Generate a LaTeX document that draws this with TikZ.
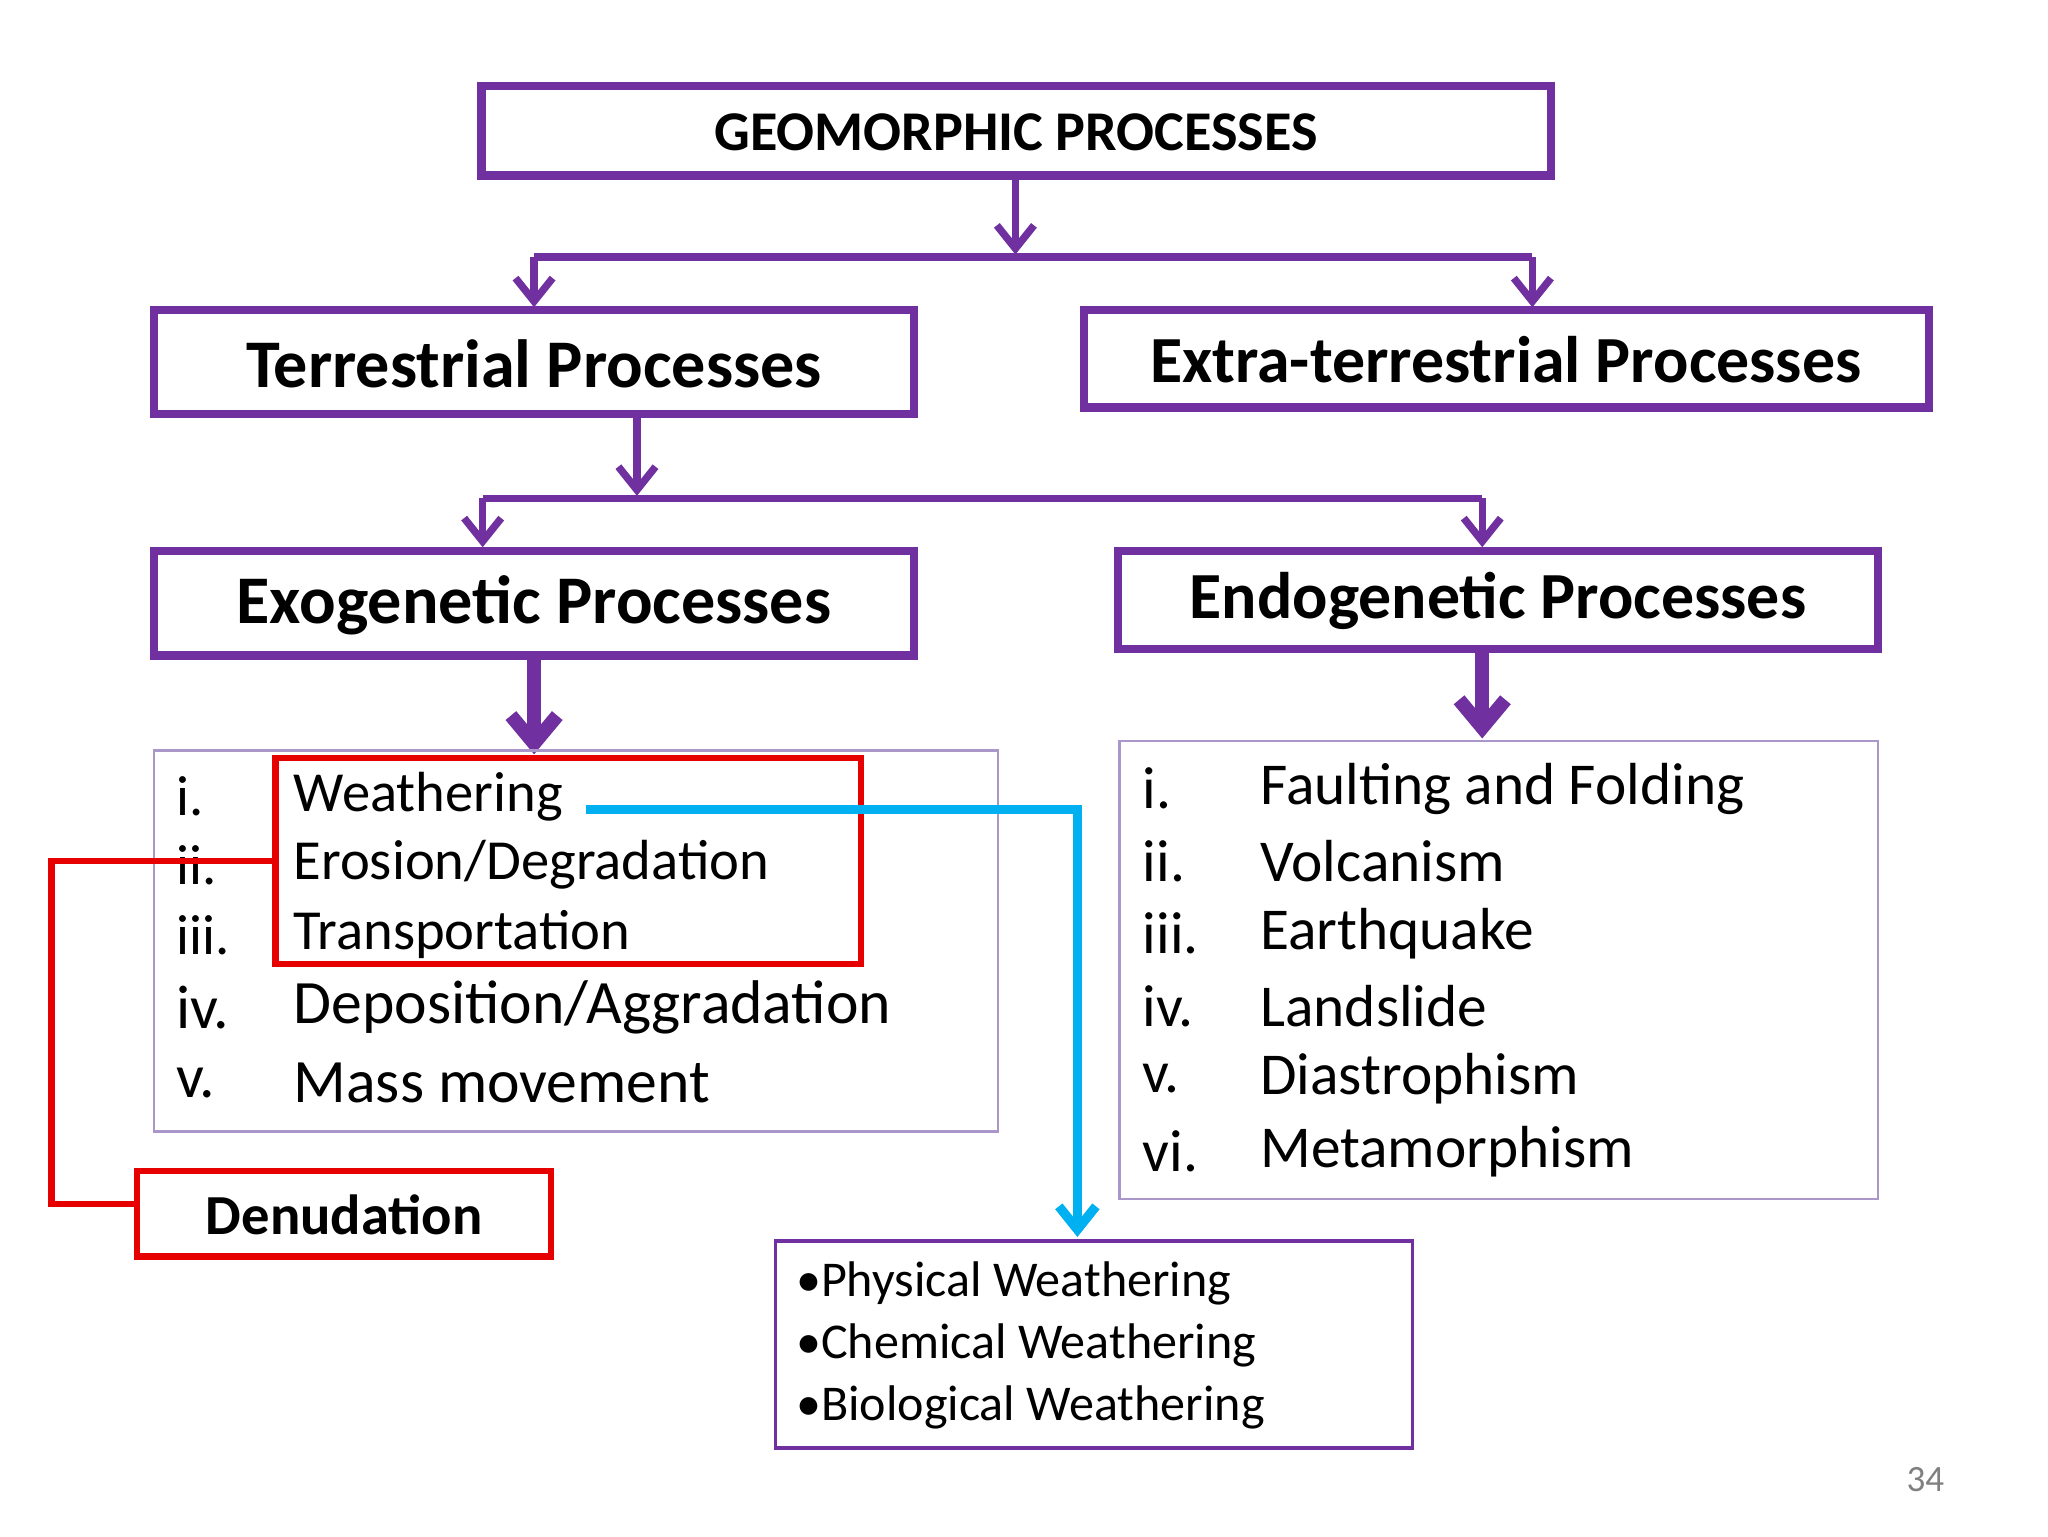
\documentclass[tikz,border=0pt]{standalone}
\usepackage{fontspec}
\setmainfont{Carlito}
\usetikzlibrary{arrows.meta}
\definecolor{pur}{RGB}{112,48,160}
\definecolor{rd}{RGB}{230,0,0}
\definecolor{bl}{RGB}{0,176,240}
\definecolor{lb}{RGB}{170,150,200}
\begin{document}
\begin{tikzpicture}[x=0.01cm,y=-0.01cm,
  pbox/.style={draw=pur,line width=1.8pt},
  thinbox/.style={draw=lb,line width=0.5pt},
  parr/.style={draw=pur,line width=1.6pt,-{Straight Barb[length=5pt,width=8pt]}},
  thk/.style={draw=pur,line width=3pt,-{Straight Barb[length=6pt,width=10pt]}},
  lbl/.style={anchor=west,inner sep=0pt}]
\useasboundingbox (0,0) rectangle (1553,1165);
% top
\draw[pbox] (365,65) rectangle (1176,133);
\node[font=\bfseries\fontsize{12.1}{14}\selectfont] (top) at (770.5,100) {GEOMORPHIC PROCESSES};
\draw[pbox] (117,235) rectangle (693,314);
\node[font=\bfseries\fontsize{14.7}{17}\selectfont] (ter) at (405,276) {Terrestrial Processes};
\draw[pbox] (822,235) rectangle (1463,309);
\node[font=\bfseries\fontsize{14.2}{17}\selectfont] (ext) at (1142,273) {Extra-terrestrial Processes};
\coordinate (a1) at (770,133); \coordinate (a2) at (770,193);
\draw[parr] (a1) -- (a2);
\coordinate (h1) at (405,195); \coordinate (h2) at (1162,195);
\draw[pur,line width=1.6pt] (h1) -- (h2);
\coordinate (t1) at (405,233); \coordinate (t2) at (1162,233);
\draw[parr] (h1) -- (t1); \draw[parr] (h2) -- (t2);
% level 2
\draw[pbox] (117,418) rectangle (693,497);
\node[font=\bfseries\fontsize{14.7}{17}\selectfont] (exo) at (405,459) {Exogenetic Processes};
\draw[pbox] (848,418) rectangle (1424,492);
\node[font=\bfseries\fontsize{14.2}{17}\selectfont] (endo) at (1136,456) {Endogenetic Processes};
\coordinate (b1) at (483,314); \coordinate (b2) at (483,376);
\draw[parr] (b1) -- (b2);
\coordinate (g1) at (366,378); \coordinate (g2) at (1124,378);
\draw[pur,line width=1.6pt] (g1) -- (g2);
\coordinate (u1) at (366,415); \coordinate (u2) at (1124,415);
\draw[parr] (g1) -- (u1); \draw[parr] (g2) -- (u2);
\coordinate (c1) at (405,497); \coordinate (c2) at (405,572);
\draw[thk] (c1) -- (c2);
\coordinate (d1) at (1124,492); \coordinate (d2) at (1124,560);
\draw[thk] (d1) -- (d2);
% exo list
\draw[thinbox] (117,569) rectangle (757,858);
\begin{scope}[every node/.style={lbl,font=\fontsize{12.2}{14}\selectfont}]
\node (e1n) at (133,604) {i.}; \node (e1) at (222,604) {Weathering};
\node (e2n) at (133,656) {ii.}; \node (e2) at (222,656) {Erosion/Degradation};
\node (e3n) at (133,709) {iii.}; \node (e3) at (222,709) {Transportation};
\end{scope}
\begin{scope}[every node/.style={lbl,font=\fontsize{13.3}{16}\selectfont}]
\node (e4n) at (133,764) {iv.}; \node (e4) at (222,764) {Deposition/Aggradation};
\node (e5n) at (133,821) {v.}; \node (e5) at (222,821) {Mass movement};
\end{scope}
% red
\draw[rd,line width=1.4pt] (209,575) rectangle (653,731);
\draw[rd,line width=1.4pt] (104,888) rectangle (418,953);
\node[font=\bfseries\fontsize{12.2}{14}\selectfont] (den) at (261,921) {Denudation};
\coordinate (r1) at (209,653); \coordinate (r2) at (39,653); \coordinate (r3) at (39,913); \coordinate (r4) at (104,913);
\draw[rd,line width=1.4pt] (r1) -- (r2) -- (r3) -- (r4);
% blue
\coordinate (q1) at (444,614); \coordinate (q2) at (817,614); \coordinate (q3) at (817,938);
\draw[bl,line width=2pt,-{Straight Barb[length=5pt,width=8pt]}] (q1) -- (q2) -- (q3);
% weathering types
\draw[draw=pur,line width=0.7pt] (588,941) rectangle (1071,1098);
\begin{scope}[every node/.style={lbl,font=\fontsize{10.8}{13}\selectfont}]
\node (w1) at (603,973) {\textbullet Physical Weathering};
\node (w2) at (603,1020) {\textbullet Chemical Weathering};
\node (w3) at (603,1067) {\textbullet Biological Weathering};
\end{scope}
% endo list
\draw[thinbox] (849,562) rectangle (1424,909);
\begin{scope}[every node/.style={lbl,font=\fontsize{12.8}{15}\selectfont}]
\node (n1n) at (866,598) {i.}; \node (n1) at (955,598) {Faulting and Folding};
\node (n2n) at (866,653) {ii.}; \node (n2) at (955,653) {Volcanism};
\node (n3n) at (866,708) {iii.}; \node (n3) at (955,708) {Earthquake};
\node (n4n) at (866,763) {iv.}; \node (n4) at (955,763) {Landslide};
\node (n5n) at (866,818) {v.}; \node (n5) at (955,818) {Diastrophism};
\node (n6n) at (866,873) {vi.}; \node (n6) at (955,873) {Metamorphism};
\end{scope}
\node[text=gray,font=\fontsize{8}{10}\selectfont] (pg) at (1460,1122) {34};
\end{tikzpicture}
\end{document}
